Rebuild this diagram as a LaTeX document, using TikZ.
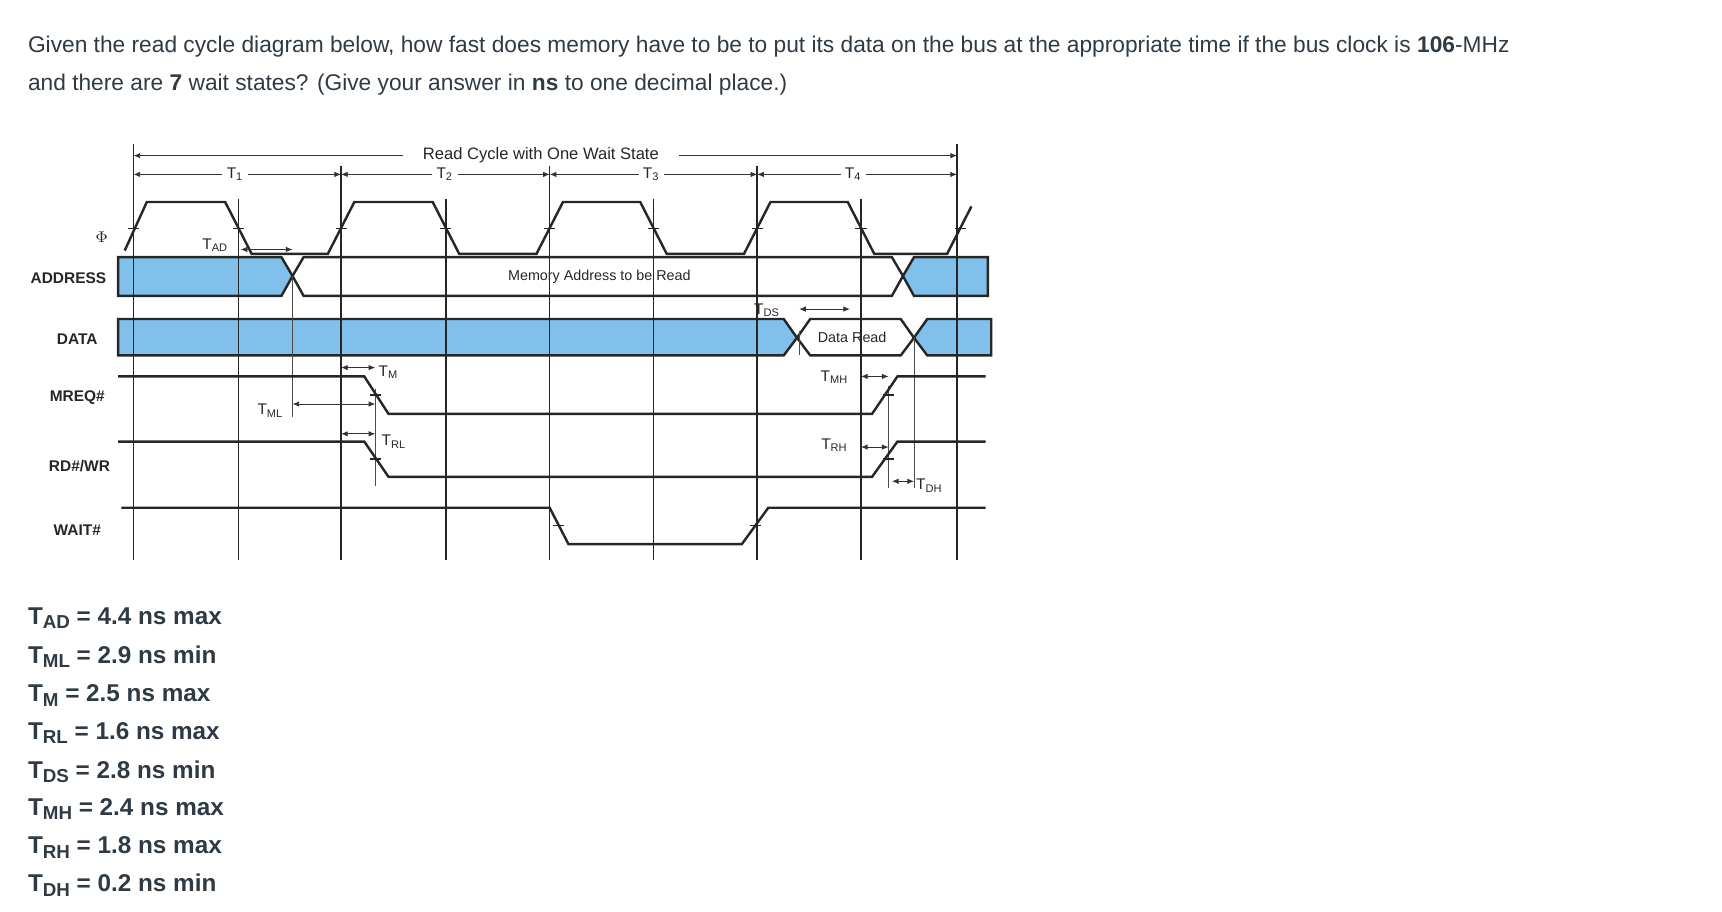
\documentclass[tikz,border=0pt]{standalone}
\usepackage{fontspec}
\setmainfont{Liberation Sans}
\usetikzlibrary{arrows.meta}
\definecolor{txt}{HTML}{2F3A45}
\definecolor{bus}{HTML}{80C0EA}
\begin{document}
\begin{tikzpicture}[x=0.5pt,y=-0.5pt,
  sig/.style={line width=1.1pt,black!85},
  grid/.style={line width=0.7pt,black!85},
  thin/.style={line width=0.3pt,black!70},
  dim/.style={line width=0.4pt,black!80,{Latex[length=3pt,width=2.5pt]}-{Latex[length=3pt,width=2.5pt]}},
  lab/.style={font=\fontsize{7}{8}\selectfont,text=black!85,inner sep=1pt},
  sname/.style={font=\fontsize{7}{8}\selectfont\bfseries,text=black!85},
  q/.style={font=\fontsize{10.3}{12}\selectfont,text=txt,anchor=west,inner sep=0},
  li/.style={font=\fontsize{11}{13}\selectfont\bfseries,text=txt,anchor=west,inner sep=0}]
\useasboundingbox (0,0) rectangle (1560,826);
\node[q] (q1) at (25,42) {Given the read cycle diagram below, how fast does memory have to be to put its data on the bus at the appropriate time if the bus clock is \textbf{106}-MHz};
\node[q] (q2) at (25,77) {and there are \textbf{7} wait states? (Give your answer in \textbf{ns} to one decimal place.)};
% bands
\fill[bus] (107,233)--(255,233)--(265,250)--(255,268)--(107,268)--cycle;
\fill[bus] (818,250)--(828,233)--(895,233)--(895,268)--(828,268)--cycle;
\fill[bus] (107,289)--(710,289)--(722,306)--(710,322)--(107,322)--cycle;
\fill[bus] (828,306)--(840,289)--(898,289)--(898,322)--(840,322)--cycle;
\draw[sig] (107,233)--(255,233)--(265,250)--(255,268)--(107,268)--cycle;
\draw[sig] (265,250)--(275,233)--(808,233)--(818,250)--(808,268)--(275,268)--cycle;
\draw[sig] (818,250)--(828,233)--(895,233)--(895,268)--(828,268)--cycle;
\draw[sig] (107,289)--(710,289)--(722,306)--(710,322)--(107,322)--cycle;
\draw[sig] (722,306)--(734,289)--(816,289)--(828,306)--(816,322)--(734,322)--cycle;
\draw[sig] (828,306)--(840,289)--(898,289)--(898,322)--(840,322)--cycle;
% grid
\foreach \x/\t in {121/130,216/180,309/150,404/180,498/150,592/180,686/150,780/180,867/130}
  \draw[grid] (\x,\t)--(\x,507);
% clock
\draw[sig] (113,227)--(133,183)--(204,183)--(228,230)--(297,230)--(321,183)--(392,183)--(416,230)--(486,230)--(510,183)--(580,183)--(604,230)--(674,230)--(698,183)--(768,183)--(792,230)--(858,230)--(880,187);
\foreach \x in {121,216,309,404,498,592,686,780,870}
  \draw[grid] (\x-5,207)--(\x+5,207);
% top dimension arrows
\draw[dim,{Latex[length=3pt,width=2.5pt]}-] (121,141)--(365,141);
\draw[dim,-{Latex[length=3pt,width=2.5pt]}] (615,141)--(867,141);
\node[lab,font=\fontsize{7.5}{8}\selectfont] (rc) at (490,141) {Read Cycle with One Wait State};
\foreach \a/\b/\m/\n in {121/309/213/1,309/498/403/2,498/686/590/3,686/867/773/4}{
  \draw[dim] (\a,158)--(\b,158);
  \node[lab,fill=white,inner sep=2pt] at (\m,158) {T\textsubscript{\n}};
}
\node[lab] (phi) at (92,215) {$\Phi$};
% names
\node[sname] (na) at (62,252) {ADDRESS};
\node[sname] (nd) at (70,307) {DATA};
\node[sname] (nm) at (70,360) {MREQ\#};
\node[sname] (nr) at (72,422) {RD\#/WR};
\node[sname] (nw) at (70,480) {WAIT\#};
\node[lab,font=\fontsize{6.5}{8}\selectfont] (ma) at (543,251) {Memory Address to be Read};
\node[lab,font=\fontsize{6.5}{8}\selectfont] (dr) at (772,306) {Data Read};
% thin guides
\draw[thin] (265,250)--(265,378);
\draw[thin] (724,300)--(724,322);
\draw[thin] (828,306)--(828,442);
\draw[thin] (340,352)--(340,440);
\draw[thin] (805,350)--(805,442);
% MREQ, RD, WAIT
\draw[sig] (107,341)--(330,341)--(352,375)--(790,375)--(813,341)--(893,341);
\draw[sig] (107,400)--(330,400)--(352,432)--(790,432)--(813,400)--(893,400);
\draw[sig] (110,460)--(498,460)--(515,493)--(672,493)--(696,460)--(893,460);
\foreach \x/\y in {340/358,805/358,340/416,805/416,506/476,684/476}
  \draw[grid] (\x-5,\y)--(\x+5,\y);
% timing labels
\node[lab] (tad) at (195,222) {T\textsubscript{\tiny AD}};
\draw[dim] (218,226)--(265,226);
\node[lab] (tds) at (695,281) {T\textsubscript{\tiny DS}};
\draw[dim] (724,280)--(770,280);
\node[lab] (tm) at (352,337) {T\textsubscript{\tiny M}};
\draw[dim] (309,333)--(340,333);
\node[lab] (tml) at (245,372) {T\textsubscript{\tiny ML}};
\draw[dim] (265,366)--(340,366);
\node[lab] (tmh) at (756,342) {T\textsubscript{\tiny MH}};
\draw[dim] (780,341)--(805,341);
\node[lab] (trl) at (357,400) {T\textsubscript{\tiny RL}};
\draw[dim] (309,393)--(340,393);
\node[lab] (trh) at (756,403) {T\textsubscript{\tiny RH}};
\draw[dim] (780,405)--(805,405);
\node[lab] (tdh) at (842,440) {T\textsubscript{\tiny DH}};
\draw[dim] (808,436)--(828,436);
% list
\foreach \y/\s/\v in {560/AD/4.4 ns max,595/ML/2.9 ns min,630/M/2.5 ns max,664/RL/1.6 ns max,699/DS/2.8 ns min,733/MH/2.4 ns max,768/RH/1.8 ns max,802/DH/0.2 ns min}
  \node[li] at (25,\y) {T\raisebox{-0.35ex}{\fontsize{8.5}{9}\selectfont\s} = \v};
\end{tikzpicture}
\end{document}
